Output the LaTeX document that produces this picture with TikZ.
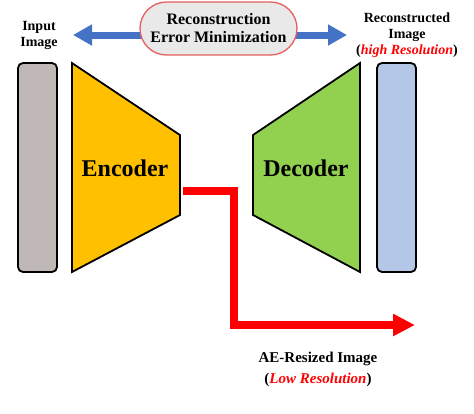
\documentclass[tikz,border=0pt]{standalone}
\usepackage{fontspec}
\setmainfont{Liberation Serif}
\usetikzlibrary{arrows.meta,shapes.misc}
\definecolor{inGray}{RGB}{191,184,182}
\definecolor{encYellow}{RGB}{255,192,0}
\definecolor{decGreen}{RGB}{146,208,80}
\definecolor{outBlue}{RGB}{180,199,231}
\definecolor{arrBlue}{RGB}{68,114,196}
\definecolor{pillGray}{RGB}{233,233,233}
\definecolor{pillRed}{RGB}{230,95,95}
\definecolor{pureRed}{RGB}{255,0,0}
\begin{document}
\begin{tikzpicture}[x=1pt,y=-1pt,
  imgbox/.style={draw=black,line width=1.8pt,rounded corners=5pt},
  blockshape/.style={draw=black,line width=1.8pt,line join=miter},
  lbl/.style={inner sep=0pt,align=center,font=\bfseries\fontsize{14}{16}\selectfont},
  bigl/.style={inner sep=0pt,font=\bfseries\fontsize{24}{26}\selectfont},
  hires/.style={text=pureRed,font=\bfseries\itshape\fontsize{14}{16}\selectfont}]
\useasboundingbox (0,0) rectangle (474,413);
% blue double arrow (behind the pill)
\coordinate (bl) at (73,35);
\coordinate (br) at (347,35);
\draw[arrBlue,line width=7pt,{Triangle[width=20pt,length=19pt]}-{Triangle[width=20pt,length=19pt]}] (bl) -- (br);
% pill
\node[rounded rectangle,draw=pillRed,line width=1.3pt,fill=pillGray,
  minimum width=157pt,minimum height=53pt,inner sep=0pt,
  align=center,font=\bfseries\fontsize{16}{18}\selectfont] (pill) at (218.5,28.5)
  {Reconstruction\\Error Minimization};
% labels
\node[lbl] (inlbl) at (39,35) {Input\\Image};
\node[lbl] (outlbl) at (407,35) {Reconstructed\\Image\\(\textcolor{pureRed}{\itshape high Resolution})};
% input image
\draw[imgbox,fill=inGray] (18,63) rectangle (57,272);
\node[inner sep=0pt] (inimg) at (37.5,167.5) {};
% encoder
\draw[blockshape,fill=encYellow] (72,63) -- (180,135) -- (180,215) -- (72,272) -- cycle;
\node[bigl] (enc) at (125,168) {Encoder};
% decoder
\draw[blockshape,fill=decGreen] (360,63) -- (253,135) -- (253,215) -- (360,272) -- cycle;
\node[bigl] (dec) at (306,168) {Decoder};
% output image
\draw[imgbox,fill=outBlue] (377,63) rectangle (416,272);
\node[inner sep=0pt] (outimg) at (396.5,167.5) {};
% red arrow
\coordinate (encR) at (183,191);
\coordinate (bend) at (233.5,325);
\coordinate (aeEnd) at (415,325);
\draw[pureRed,line width=8pt,line join=miter,-{Triangle[width=21pt,length=22pt]}]
  (encR) -| (bend) -- (aeEnd);
% AE label
\node[inner sep=0pt,align=center,font=\bfseries\fontsize{15}{21}\selectfont] (aelbl) at (318,369)
  {AE-Resized Image\\(\textcolor{pureRed}{\itshape Low Resolution})};
\end{tikzpicture}
\end{document}
